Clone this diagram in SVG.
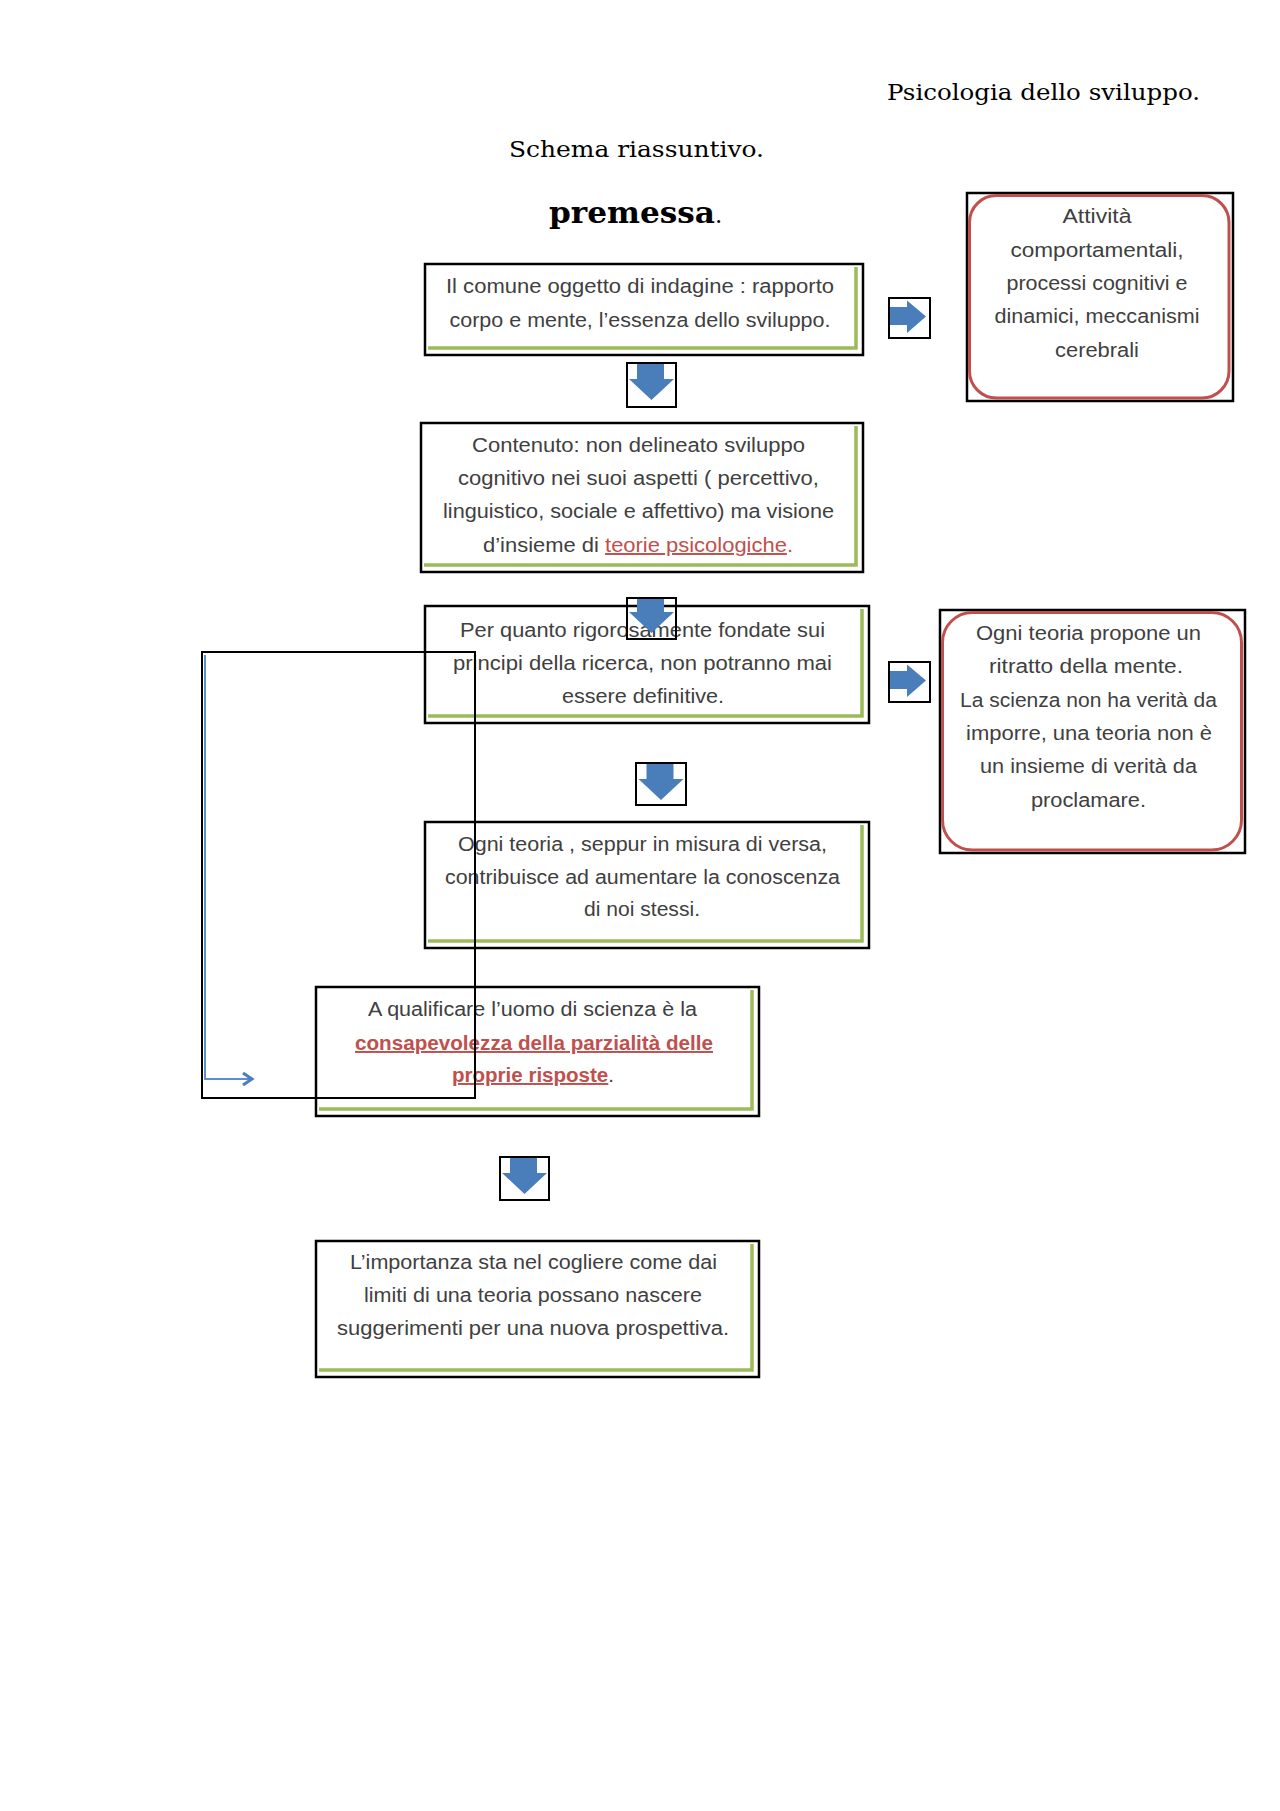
<svg xmlns="http://www.w3.org/2000/svg" width="1280" height="1811" viewBox="0 0 1280 1811">
<style>
.frame{fill:#ffffff;stroke:#000000;stroke-width:2.5}
.green{fill:none;stroke:#9BBB59;stroke-width:3.5}
.red{fill:none;stroke:#C0504D;stroke-width:3}
.t{font-family:"Liberation Sans",Arial,sans-serif;font-size:19.5px;fill:#404040;text-anchor:middle}
.hl{fill:#C0504D;text-decoration:underline}
.hb{fill:#C0504D;text-decoration:underline;font-weight:bold}
.hdr{font-family:"DejaVu Serif","Liberation Serif",serif;font-size:23px;fill:#000000}
.abox{fill:none;stroke:#000000;stroke-width:2}
.arr{fill:#4A7EBB}
.loop{fill:none;stroke:#000000;stroke-width:2}
.blue{fill:none;stroke:#5B8FD0;stroke-width:2}
</style>
<defs>
<path id="downArrow" class="arr" d="M10,1 H37 V16 H47 L24.5,37 L2,16 H10 Z"/>
<path id="rightArrow" class="arr" d="M1,9 H18 V2.5 L37,18.5 L18,35 V27 H1 Z"/>
<marker id="chev" markerWidth="14" markerHeight="14" refX="10" refY="7" orient="auto" markerUnits="userSpaceOnUse">
<path d="M2,1 L11,7 L2,13" fill="none" stroke="#4A7EBB" stroke-width="3"/>
</marker>
</defs>
<rect x="0" y="0" width="1280" height="1811" fill="#ffffff"/>

<g id="titles">
<text class="hdr" x="887" y="100" textLength="313" lengthAdjust="spacingAndGlyphs">Psicologia dello sviluppo.</text>
<text class="hdr" x="509" y="157" textLength="255" lengthAdjust="spacingAndGlyphs">Schema riassuntivo.</text>
<text class="hdr" x="549" y="223"><tspan font-weight="bold" font-size="30px" textLength="166" lengthAdjust="spacingAndGlyphs">premessa</tspan><tspan>.</tspan></text>
</g>

<g id="node-oggetto">
<rect class="frame" x="425" y="264" width="438" height="91"/>
<path class="green" d="M856,267 V348 H428"/>
<text class="t" x="640" y="293" textLength="388" lengthAdjust="spacingAndGlyphs">Il comune oggetto di indagine : rapporto</text>
<text class="t" x="640" y="327" textLength="381" lengthAdjust="spacingAndGlyphs">corpo e mente, l’essenza dello sviluppo.</text>
</g>

<g id="node-attivita">
<rect class="frame" x="967" y="193" width="266" height="208"/>
<rect class="red" x="969.5" y="195.5" width="259.5" height="202.5" rx="27" ry="27"/>
<text class="t" x="1097" y="223" textLength="69" lengthAdjust="spacingAndGlyphs">Attività</text>
<text class="t" x="1097" y="257" textLength="173" lengthAdjust="spacingAndGlyphs">comportamentali,</text>
<text class="t" x="1097" y="290" textLength="181" lengthAdjust="spacingAndGlyphs">processi cognitivi e</text>
<text class="t" x="1097" y="323" textLength="205" lengthAdjust="spacingAndGlyphs">dinamici, meccanismi</text>
<text class="t" x="1097" y="357" textLength="84" lengthAdjust="spacingAndGlyphs">cerebrali</text>
</g>

<g id="node-contenuto">
<rect class="frame" x="421" y="423" width="442" height="149"/>
<path class="green" d="M856,426 V565 H424"/>
<text class="t" x="638.5" y="452" textLength="333" lengthAdjust="spacingAndGlyphs">Contenuto: non delineato sviluppo</text>
<text class="t" x="638.5" y="485" textLength="361" lengthAdjust="spacingAndGlyphs">cognitivo nei suoi aspetti ( percettivo,</text>
<text class="t" x="638.5" y="518" textLength="391" lengthAdjust="spacingAndGlyphs">linguistico, sociale e affettivo) ma visione</text>
<text class="t" x="638" y="552" textLength="310" lengthAdjust="spacingAndGlyphs">d’insieme di <tspan class="hl">teorie psicologiche</tspan><tspan fill="#C0504D">.</tspan></text>
</g>

<g id="node-rigorosamente">
<rect class="frame" x="425" y="606" width="444" height="117"/>
<path class="green" d="M862,609 V716 H428"/>
<text class="t" x="642.5" y="637" textLength="365" lengthAdjust="spacingAndGlyphs">Per quanto rigorosamente fondate sui</text>
<text class="t" x="642.5" y="670" textLength="379" lengthAdjust="spacingAndGlyphs">principi della ricerca, non potranno mai</text>
<text class="t" x="643" y="703" textLength="162" lengthAdjust="spacingAndGlyphs">essere definitive.</text>
</g>

<g id="node-ritratto">
<rect class="frame" x="940" y="610" width="305" height="243"/>
<rect class="red" x="942.5" y="612.5" width="299" height="237.5" rx="30" ry="30"/>
<text class="t" x="1088.5" y="640" textLength="225" lengthAdjust="spacingAndGlyphs">Ogni teoria propone un</text>
<text class="t" x="1086" y="673" textLength="194" lengthAdjust="spacingAndGlyphs">ritratto della mente.</text>
<text class="t" x="1088.5" y="707" textLength="257" lengthAdjust="spacingAndGlyphs">La scienza non ha verità da</text>
<text class="t" x="1089" y="740" textLength="246" lengthAdjust="spacingAndGlyphs">imporre, una teoria non è</text>
<text class="t" x="1088.5" y="773" textLength="217" lengthAdjust="spacingAndGlyphs">un insieme di verità da</text>
<text class="t" x="1088.5" y="807" textLength="115" lengthAdjust="spacingAndGlyphs">proclamare.</text>
</g>

<g id="node-conoscenza">
<rect class="frame" x="425" y="822" width="444" height="126"/>
<path class="green" d="M862,825 V941 H428"/>
<text class="t" x="642.5" y="851" textLength="369" lengthAdjust="spacingAndGlyphs">Ogni teoria , seppur in misura di versa,</text>
<text class="t" x="642.5" y="884" textLength="395" lengthAdjust="spacingAndGlyphs">contribuisce ad aumentare la conoscenza</text>
<text class="t" x="642" y="916" textLength="116" lengthAdjust="spacingAndGlyphs">di noi stessi.</text>
</g>

<g id="node-qualificare">
<rect class="frame" x="316" y="987" width="443" height="129"/>
<path class="green" d="M752,990 V1109 H319"/>
<text class="t" x="532.5" y="1016" textLength="329" lengthAdjust="spacingAndGlyphs">A qualificare l’uomo di scienza è la</text>
<text class="t hb" x="534" y="1050" textLength="358" lengthAdjust="spacingAndGlyphs">consapevolezza della parzialità delle</text>
<text class="t" x="533" y="1082" textLength="162" lengthAdjust="spacingAndGlyphs"><tspan class="hb">proprie risposte</tspan>.</text>
</g>

<g id="node-importanza">
<rect class="frame" x="316" y="1241" width="443" height="136"/>
<path class="green" d="M752,1244 V1370 H319"/>
<text class="t" x="533.5" y="1269" textLength="367" lengthAdjust="spacingAndGlyphs">L’importanza sta nel cogliere come dai</text>
<text class="t" x="533" y="1302" textLength="338" lengthAdjust="spacingAndGlyphs">limiti di una teoria possano nascere</text>
<text class="t" x="533" y="1335" textLength="392" lengthAdjust="spacingAndGlyphs">suggerimenti per una nuova prospettiva.</text>
</g>

<g id="connectors">
<g id="arrow-right-1">
<use href="#rightArrow" x="889" y="298"/>
<rect class="abox" x="889" y="298" width="41" height="40"/>
</g>
<g id="arrow-right-2">
<use href="#rightArrow" x="889" y="662"/>
<rect class="abox" x="889" y="662" width="41" height="40"/>
</g>
<g id="arrow-down-1">
<use href="#downArrow" x="627" y="363"/>
<rect class="abox" x="627" y="363" width="49" height="44"/>
</g>
<g id="arrow-down-2">
<use href="#downArrow" x="627" y="598" transform="translate(0,-2)"/>
<rect class="abox" x="627" y="598" width="49" height="41"/>
</g>
<g id="arrow-down-3">
<use href="#downArrow" x="636.5" y="763"/>
<rect class="abox" x="636" y="763" width="50" height="42"/>
</g>
<g id="arrow-down-4">
<use href="#downArrow" x="500" y="1157"/>
<rect class="abox" x="500" y="1157" width="49" height="43"/>
</g>
<g id="loop">
<rect class="loop" x="202" y="652" width="273" height="446"/>
<path class="blue" d="M205,655 V1079 H251" marker-end="url(#chev)"/>
</g>
</g>
</svg>
